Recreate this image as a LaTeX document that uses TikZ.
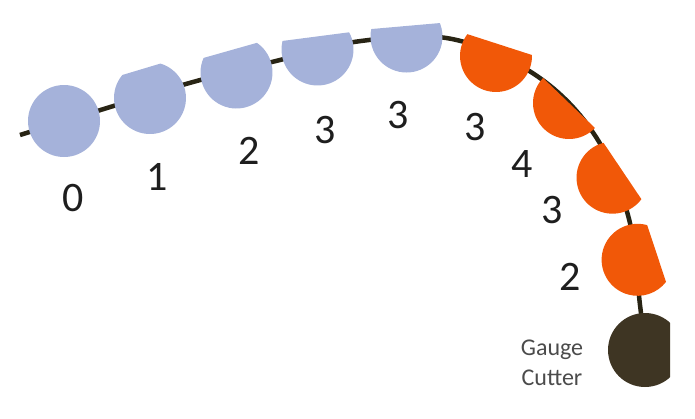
\documentclass[tikz,border=0pt]{standalone}
\usepackage{fontspec}
\setmainfont{Carlito}
\definecolor{bead}{RGB}{165,178,218}
\definecolor{hot}{RGB}{241,88,8}
\definecolor{wire}{RGB}{40,36,20}
\definecolor{cutter}{RGB}{62,53,35}
\definecolor{txt}{RGB}{30,30,30}
\newcommand\cutdisc[5]{%
  \begin{scope}[shift={(#1,-#2)}, rotate=#3-90]
    \pgfmathsetmacro\cdbeta{asin(#4/36)}
    \fill[#5] (180-\cdbeta:36pt) arc[start angle=180-\cdbeta, end angle=360+\cdbeta, radius=36pt] -- cycle;
  \end{scope}}
\tikzset{
  num/.style={text=txt, font=\fontsize{42}{42}\selectfont, inner sep=0pt},
  wireline/.style={draw=wire, line width=4.5pt}
}
\begin{document}
\begin{tikzpicture}[x=1pt,y=1pt]
\useasboundingbox (0,0) rectangle (695,-418);
% wire
\coordinate (w0) at (20,-135);
\coordinate (w1) at (107,-108);
\coordinate (w2) at (193,-82);
\coordinate (w3) at (276,-61);
\coordinate (w4) at (361,-41);
\coordinate (w5) at (452,-39);
\coordinate (w6) at (537,-76);
\coordinate (w7) at (596,-137);
\coordinate (w8) at (629,-219);
\coordinate (w9) at (640,-305);
\coordinate (w10) at (645,-350);
\draw[wireline] plot[smooth, tension=0.6] coordinates {(w0) (w1) (w2) (w3) (w4) (w5) (w6) (w7) (w8) (w9) (w10)};
% blue beads
\fill[bead] (64,-121) circle[radius=36pt];
\cutdisc{150}{98}{106.7}{30}{bead}
\cutdisc{236.5}{72.5}{105.8}{23}{bead}
\cutdisc{317.5}{49.5}{97.4}{13}{bead}
\cutdisc{406.5}{36.5}{95}{10.5}{bead}
% orange beads
\cutdisc{496}{56}{72.1}{12}{hot}
\cutdisc{569}{103}{46.1}{0}{hot}
\cutdisc{612.5}{177.7}{33.9}{12}{hot}
\cutdisc{637.6}{259.8}{18.4}{20}{hot}
% gauge cutter
\begin{scope}
  \clip (590,-300) rectangle (670,-400);
  \fill[cutter] (645,-350) circle[radius=37pt];
\end{scope}
% labels
\node[num] (l0) at (73,-198) {0};
\node[num] (l1) at (157,-177) {1};
\node[num] (l2) at (249,-151) {2};
\node[num] (l3) at (325,-130) {3};
\node[num] (l4) at (398,-115) {3};
\node[num] (l5) at (475,-127) {3};
\node[num] (l6) at (522,-164) {4};
\node[num] (l7) at (552,-210) {3};
\node[num] (l8) at (570,-277) {2};
\node[text=txt!80, font=\fontsize{24}{30}\selectfont, align=center, inner sep=0pt] (gc) at (552,-363) {Gauge\\Cutter};
\end{tikzpicture}
\end{document}
